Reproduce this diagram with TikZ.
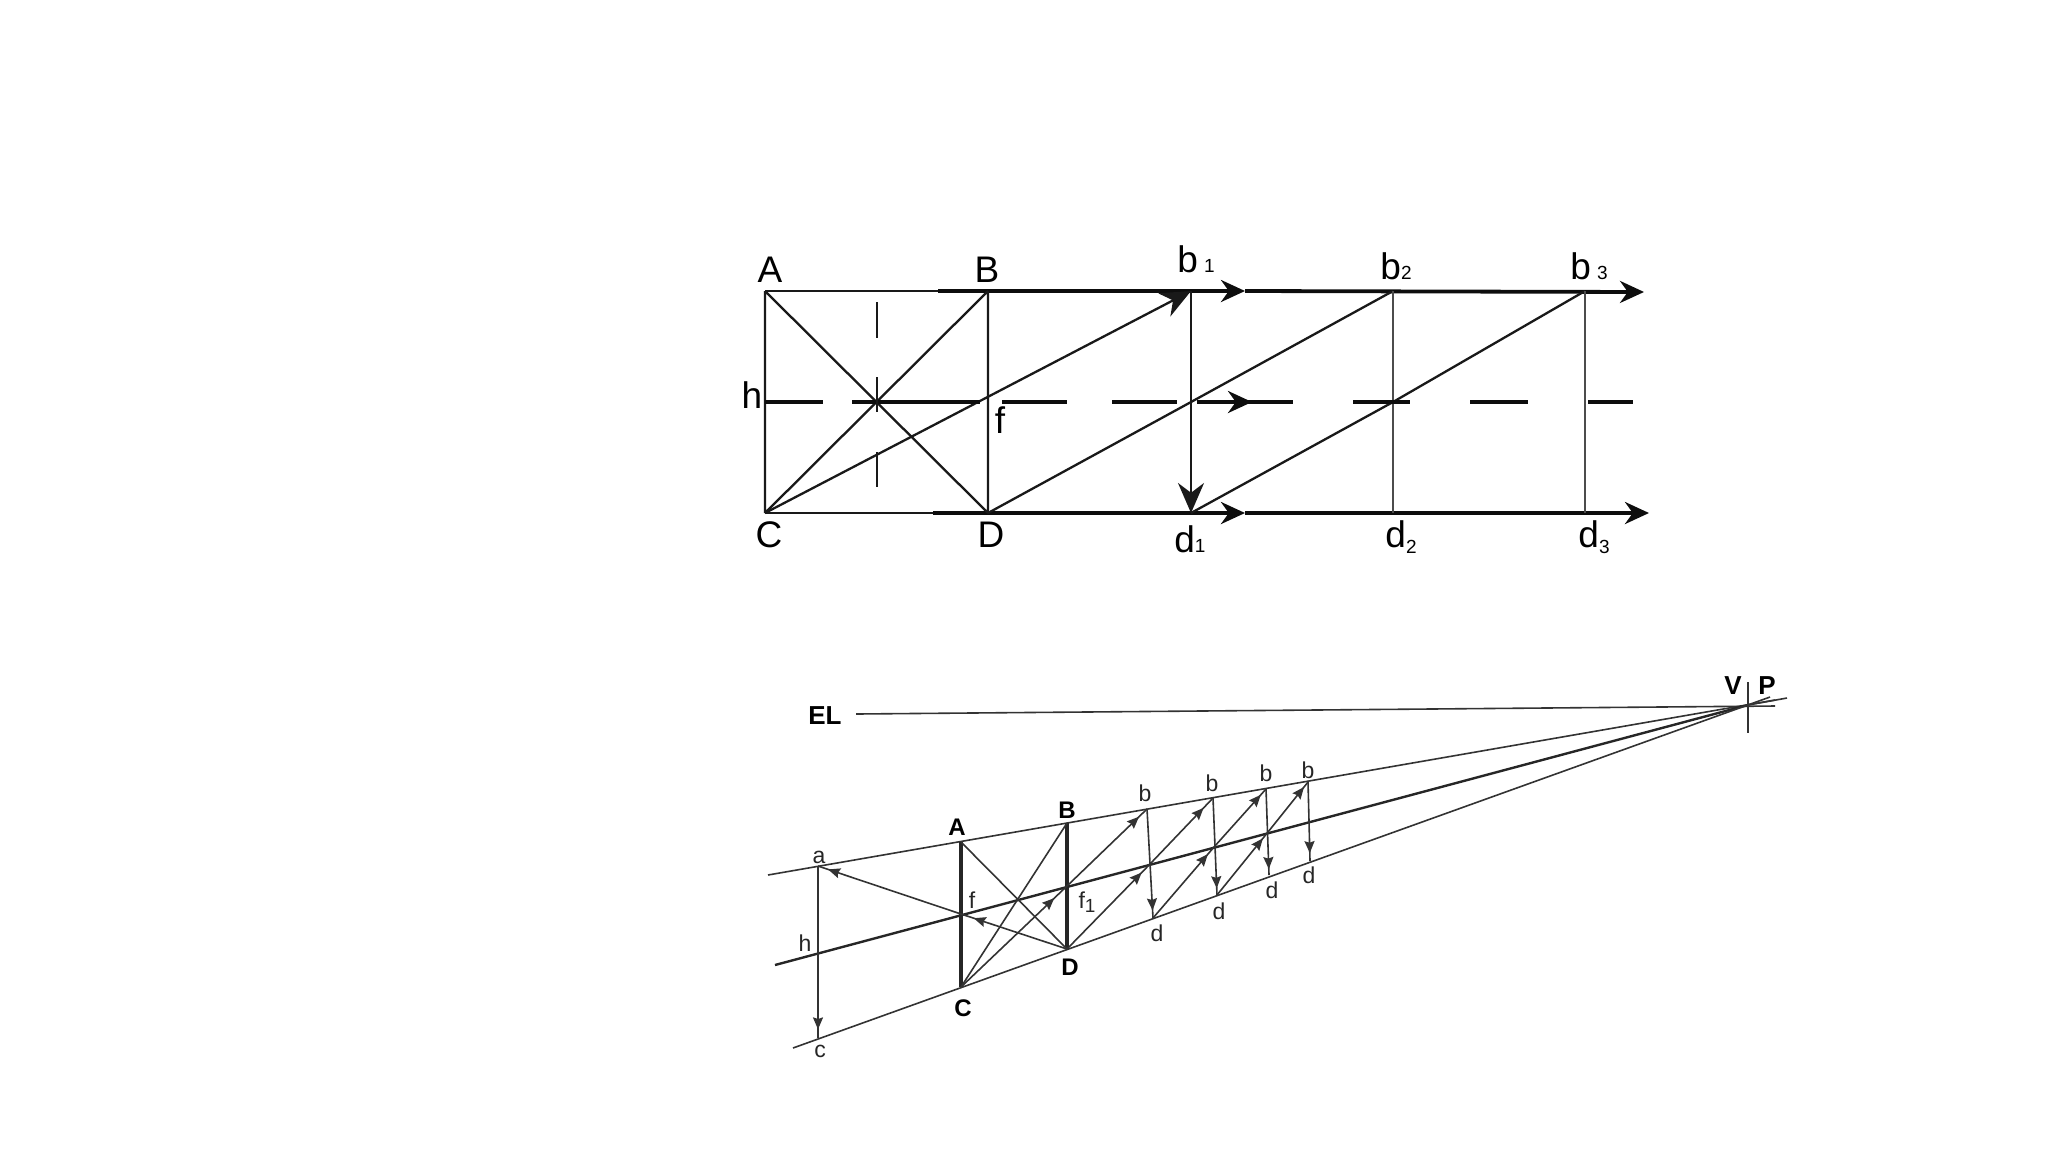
\documentclass[tikz,border=0pt]{standalone}
\usepackage{fontspec}
\setmainfont{Liberation Sans}
\usetikzlibrary{arrows.meta,decorations.markings}
\newcommand{\sbn}[2]{\raisebox{#1}{\fontsize{9.5}{9.5}\selectfont #2}}
\tikzset{
    TL/.style ={font=\fontsize{18.5}{18.5}\selectfont,inner sep=0pt},
    TS/.style ={TL,anchor=base west},
    SL/.style ={font=\fontsize{11.5}{11.5}\selectfont,inner sep=0pt,text=black!85},
    BL/.style ={font=\bfseries\fontsize{12}{12}\selectfont,inner sep=0pt},
    BK/.style ={font=\bfseries\fontsize{13}{13}\selectfont,inner sep=0pt},
    LN1/.style ={draw=black!90,line width=1.15pt},
    LN2/.style ={draw=black!95,line width=1.9pt},
    LN3/.style ={draw=black!80,line width=0.8pt},
    LN4/.style ={draw=black!85,line width=1.2pt},
    LN5/.style ={draw=black!85,line width=1.7pt},
    TA/.style ={-{Stealth[length=12pt,width=11pt]}},
    TB/.style ={-{Stealth[length=15pt,width=13pt]}},
    MK/.style ={postaction={decorate},decoration={markings,
        mark=at position #1 with {\arrow{Stealth[length=6pt,width=5pt,inset=0.8pt]}}}}}

\begin{document}
\begin{tikzpicture}[x=0.5pt,y=-0.5pt]
    \useasboundingbox (0,0) rectangle (2048,1152);
    % upper figure
    \coordinate(A) at(765,291);
    \coordinate(B) at(988,291);
    \coordinate(C) at(765,513);
    \coordinate(D) at(988,513);
    \coordinate(b1) at(1191,291);
    \coordinate(b2) at(1393,291);
    \coordinate(b3) at(1585,291);
    \coordinate(d1) at(1191,513);
    \coordinate(d2) at(1393,513);
    \coordinate(d3) at(1585,513);
    \coordinate(m1) at(1191,402);
    \coordinate(m2) at(1393,402);
    \coordinate(ts) at(938,291);
    \coordinate(tm) at(1245,291);
    \coordinate(te) at(1644,292);
    \coordinate(us) at(933,513);
    \coordinate(um) at(1245,513);
    \coordinate(ue) at(1649,513);
    \coordinate(hs) at(1197,402);
    \coordinate(he) at(1252,402);
    \draw[LN1] (A) -- (ts) (C) -- (us);
    \draw[LN2,TA] (ts) -- (tm);
    \draw[LN2,TA] (tm) -- (te);
    \draw[LN2,TA] (us) -- (um);
    \draw[LN2,TA] (um) -- (ue);
    \draw[LN1] (A) -- (C) (B) -- (D) (A) -- (D) (C) -- (B);
    \draw[LN1,TB] (C) -- (b1);
    \draw[LN1,TB] (b1) -- (d1);
    \draw[LN1] (D) -- (m1) -- (b2) (d1) -- (m2) -- (b3);
    \draw[LN1,draw=black!70] (b2) -- (d2) (b3) -- (d3);
    \foreach \a/\b in {765/823,852/980,1002/1067,1112/1177,1197/1293,1353/1410,1470/1528,1588/1633}
        \draw[LN2] (\a,402) -- (\b,402);
    \draw[LN2,TA] (hs) -- (he);
    \foreach \a/\b in {302/338,377/412,452/487}
        \draw[LN1] (877,\a) -- (877,\b);
    \node[TL](lA) at(770,270){A};
    \node[TL](lB) at(987,270){B};
    \node[TL](lC) at(769,535){C};
    \node[TL](lD) at(991,535){D};
    \node[TL](lh) at(752,395){h};
    \node[TL](lf) at(1000,420){f};
    \node[TS](lb1) at(1177,272){b\,\sbn{0pt}{1}};
    \node[TS](lb2) at(1380,279){b\sbn{0pt}{2}};
    \node[TS](lb3) at(1570,279){b\,\sbn{0pt}{3}};
    \node[TS](ld1) at(1174,552){d\sbn{0pt}{1}};
    \node[TS](ld2) at(1385,547){d\sbn{-3pt}{2}};
    \node[TS](ld3) at(1578,547){d\sbn{-3pt}{3}};
    % lower figure
    \coordinate(VP) at(1748,705);
    \coordinate(ve) at(1775,706);
    \coordinate(vt) at(1748,682);
    \coordinate(vb) at(1748,733);
    \coordinate(el) at(856,714);
    \coordinate(ra) at(768,875);
    \coordinate(rh) at(775,965);
    \coordinate(rc) at(793,1048);
    \coordinate(ea) at(1775,700);
    \coordinate(eh) at(1787,698);
    \coordinate(ec) at(1770,697);
    \coordinate(a) at(818,866);
    \coordinate(h) at(818,953);
    \coordinate(c) at(818,1038);
    \coordinate(AA) at(961,842);
    \coordinate(CC) at(961,987);
    \coordinate(BB) at(1067,823);
    \coordinate(DD) at(1067,949);
    \coordinate(f) at(961,914);
    \coordinate(f1) at(1067,886);
    \coordinate(s1) at(1147,809);
    \coordinate(s2) at(1213,798);
    \coordinate(s3) at(1266,789);
    \coordinate(s4) at(1308,782);
    \coordinate(p1) at(1150,864);
    \coordinate(p2) at(1214,847);
    \coordinate(p3) at(1268,832);
    \coordinate(t1) at(1153,918);
    \coordinate(t2) at(1217,895);
    \coordinate(t3) at(1269,875);
    \coordinate(t4) at(1310,861);
    \draw[LN3] (el) -- (ve);
    \draw[LN3] (ra) -- (ea);
    \draw[LN4] (rh) -- (VP);
    \draw[LN3] (VP) -- (eh);
    \draw[LN3] (rc) -- (ec);
    \draw[LN3] (vt) -- (vb);
    \draw[LN5] (AA) -- (CC) (BB) -- (DD);
    \draw[LN3] (AA) -- (DD) (CC) -- (BB);
    \draw[LN3,MK=0.95] (a) -- (c);
    \draw[LN3,MK=0.88] (DD) -- (f);
    \draw[LN3,MK=0.93] (f) -- (a);
    \draw[LN3,MK=0.88] (CC) -- (f1);
    \draw[LN3,MK=0.9] (f1) -- (s1);
    \draw[LN3,MK=0.9] (DD) -- (p1);
    \draw[LN3,MK=0.85] (p1) -- (s2);
    \draw[LN3,MK=0.9] (t1) -- (p2);
    \draw[LN3,MK=0.9] (p2) -- (s3);
    \draw[LN3,MK=0.9] (t2) -- (p3);
    \draw[LN3,MK=0.9] (p3) -- (s4);
    \draw[LN3,MK=0.93] (s1) -- (t1);
    \draw[LN3,MK=0.93] (s2) -- (t2);
    \draw[LN3,MK=0.93] (s3) -- (t3);
    \draw[LN3,MK=0.9] (s4) -- (t4);
    \node[BK](lEL) at(825,716){EL};
    \node[BK](lV) at(1733,686){V};
    \node[BK](lP) at(1767,686){P};
    \node[BL](lAA) at(957,827){A};
    \node[BL](lBB) at(1067,810){B};
    \node[BL](lCC) at(963,1008){C};
    \node[BL](lDD) at(1070,967){D};
    \node[SL](la) at(819,857){a};
    \node[SL](lhh) at(805,943){h};
    \node[SL](lc) at(820,1051){c};
    \node[SL](lf0) at(972,900){f};
    \node[SL](lf1) at(1087,902){f\sbn{-2pt}{1}};
    \node[SL](ls1) at(1145,793){b};
    \node[SL](ls2) at(1212,783){b};
    \node[SL](ls3) at(1266,773){b};
    \node[SL](ls4) at(1308,770){b};
    \node[SL](lt1) at(1157,933){d};
    \node[SL](lt2) at(1219,911){d};
    \node[SL](lt3) at(1272,890){d};
    \node[SL](lt4) at(1309,875){d};
\end{tikzpicture}
\end{document}
